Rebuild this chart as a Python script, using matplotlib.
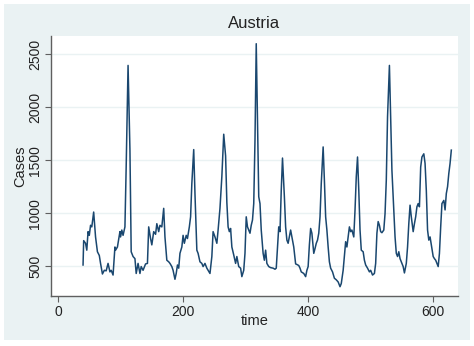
import matplotlib.pyplot as plt
import numpy as np

# weekly case counts, Austria
time = [40, 41, 44, 46, 48, 50, 52, 54, 57, 60, 63, 66, 68, 71, 74, 77, 80, 83, 85, 88,
        91, 92, 95, 99, 100, 102, 104, 107, 109, 112, 115, 117, 120, 123, 125, 128, 131, 133, 136, 140,
        143, 145, 148, 150, 153, 156, 158, 161, 163, 166, 169, 171, 174, 177, 179, 182, 184, 187, 189, 191,
        193, 195, 198, 200, 202, 205, 207, 210, 212, 214, 217, 219, 222, 224, 227, 230, 232, 235, 238, 240,
        243, 246, 248, 251, 254, 256, 259, 262, 265, 268, 270, 272, 274, 276, 278, 281, 284, 286, 289, 292,
        294, 297, 299, 301, 303, 305, 307, 309, 311, 313, 315, 317, 319, 321, 323, 325, 328, 330, 332, 334,
        337, 340, 344, 347, 349, 351, 353, 355, 357, 359, 362, 364, 366, 368, 370, 372, 374, 377, 380, 382,
        385, 387, 389, 393, 396, 398, 400, 402, 404, 406, 409, 411, 413, 415, 417, 419, 421, 424, 426, 428,
        430, 432, 434, 436, 439, 442, 445, 448, 451, 453, 456, 458, 460, 462, 464, 466, 468, 470, 473, 475,
        477, 479, 481, 483, 485, 488, 490, 492, 495, 498, 500, 503, 506, 508, 510, 512, 514, 516, 518, 521,
        523, 525, 527, 530, 532, 534, 537, 539, 541, 543, 545, 547, 549, 552, 554, 557, 559, 561, 563, 565,
        568, 570, 572, 574, 576, 578, 580, 582, 585, 587, 589, 591, 593, 595, 597, 600, 602, 604, 606, 608,
        610, 612, 614, 617, 619, 621, 623, 625, 627, 629]
cases = [510, 740, 715, 650, 825, 790, 885, 870, 1010, 775, 635, 600, 525, 425, 460, 455, 525, 445, 460, 415,
         680, 650, 680, 825, 775, 840, 790, 870, 1440, 2395, 1595, 635, 590, 570, 430, 525, 430, 495, 460, 520,
         525, 870, 760, 700, 825, 800, 900, 825, 885, 870, 1045, 775, 555, 540, 525, 495, 460, 375, 430, 510,
         480, 620, 680, 790, 715, 790, 760, 870, 965, 1280, 1600, 1185, 650, 620, 540, 525, 495, 525, 480, 460,
         430, 590, 825, 775, 715, 840, 1045, 1345, 1745, 1540, 1100, 870, 825, 855, 680, 605, 525, 590, 495, 480,
         400, 460, 620, 965, 870, 840, 810, 885, 935, 1090, 1690, 2600, 1845, 1155, 1090, 840, 620, 555, 650, 525,
         495, 485, 480, 470, 480, 680, 870, 825, 1215, 1520, 1155, 870, 745, 715, 775, 840, 775, 680, 520, 515,
         505, 480, 445, 430, 400, 460, 495, 700, 855, 810, 620, 665, 715, 745, 810, 965, 1280, 1625, 1310, 965,
         840, 680, 540, 480, 445, 385, 370, 350, 305, 335, 460, 590, 730, 680, 775, 870, 825, 840, 775, 1030,
         1345, 1530, 1215, 840, 650, 635, 555, 510, 480, 445, 460, 415, 430, 525, 810, 920, 885, 825, 815, 840,
         995, 1310, 1910, 2395, 1910, 1405, 1030, 775, 620, 590, 635, 570, 540, 495, 435, 525, 680, 900, 1075, 965,
         825, 900, 965, 1060, 1090, 1060, 1435, 1530, 1560, 1470, 1215, 840, 745, 775, 700, 590, 570, 555, 525, 495,
         620, 870, 1090, 1120, 1030, 1185, 1250, 1375, 1470, 1595]

xticks = [0, 200, 400, 600]
yticks = [500, 1000, 1500, 2000, 2500]

plt.rcParams['font.family'] = ['Liberation Sans', 'DejaVu Sans']
bg = '#eaf2f3'
axcol = '#5f5f5f'
txtcol = '#222222'

fig = plt.figure(figsize=(4.74, 3.46), dpi=100)
fig.patch.set_facecolor('white')
# stata-style graph region behind the plot
region = plt.Rectangle((4 / 474, 6 / 346), 466 / 474, 336 / 346,
                       transform=fig.transFigure, facecolor=bg, edgecolor='none', zorder=-10)
fig.add_artist(region)

ax = fig.add_axes([0.107, 0.1454, 0.859, 0.7506])
ax.set_facecolor('white')
ax.plot(time, cases, color='#1a476f', linewidth=1.1, zorder=3)

ax.set_xlim(-11.7, 639.5)
ax.set_ylim(220, 2673)
ax.set_xticks(xticks)
ax.set_yticks(yticks)
ax.set_yticklabels([str(v) for v in yticks], rotation=90, va='center')
ax.grid(axis='y', color=bg, linewidth=1.0)
ax.set_axisbelow(True)

for side in ['top', 'right']:
    ax.spines[side].set_visible(False)
for side in ['left', 'bottom']:
    ax.spines[side].set_color(axcol)
    ax.spines[side].set_linewidth(1.0)
ax.tick_params(colors=axcol, labelcolor=txtcol, labelsize=10, length=4, width=0.8)
ax.tick_params(axis='y', pad=2)
ax.tick_params(axis='x', pad=3)

ax.set_title('Austria', fontsize=12, pad=6, color=txtcol)
ax.set_xlabel('time', fontsize=10.5, color=txtcol)
ax.set_ylabel('Cases', fontsize=10.5, color=txtcol)
ax.xaxis.set_label_coords(0.5, -0.072)
ax.yaxis.set_label_coords(-0.057, 0.5)

fig.savefig('out.png', dpi=100)
